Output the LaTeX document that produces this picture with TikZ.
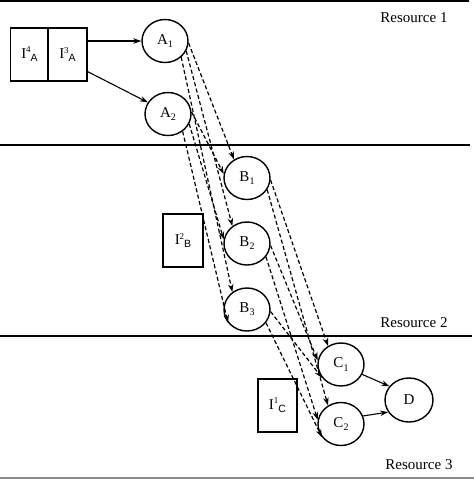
\documentclass[tikz,border=0pt]{standalone}
\usepackage{fontspec}
\setmainfont{Liberation Serif}
\newfontfamily\sansf{Liberation Sans}
\usetikzlibrary{shapes.geometric,arrows.meta}
\newcommand{\Ilab}[2]{I\raisebox{0.8ex}{\fontsize{9}{9}\selectfont #1}\raisebox{-0.5ex}{\sansf\fontsize{10.5}{10.5}\selectfont #2}}
\newcommand{\sublab}[2]{#1\raisebox{-0.45ex}{\fontsize{10}{10}\selectfont #2}}
\begin{document}
\begin{tikzpicture}[x=1pt,y=-1pt,
  every node/.style={font=\fontsize{15}{16}\selectfont},
  proc/.style={draw,ellipse,line width=1.4pt,minimum width=46pt,minimum height=43pt,inner sep=0pt},
  ibox/.style={draw,line width=1.2pt,minimum width=38pt,minimum height=53pt,inner sep=0pt},
  sarr/.style={line width=1.1pt,-{Stealth[length=8pt,width=5.5pt]}},
  darr/.style={line width=1.2pt,dashed,dash pattern=on 4pt off 2.5pt,-{Stealth[length=8pt,width=5.5pt]}},
  sep/.style={line width=1.3pt}]
\useasboundingbox (0,0) rectangle (474,480);
% separators
\coordinate (t0) at (0,1); \coordinate (t1) at (469,1);
\coordinate (m0) at (0,145); \coordinate (m1) at (470,145);
\coordinate (n0) at (0,336); \coordinate (n1) at (472,336);
\coordinate (b0) at (0,478); \coordinate (b1) at (474,478);
\draw[sep] (t0) -- (t1);
\draw[sep] (m0) -- (m1);
\draw[sep] (n0) -- (n1);
\draw[sep,draw=black!45] (b0) -- (b1);
% resource labels
\node (r1) at (414,18) {Resource 1};
\node (r2) at (414,323) {Resource 2};
\node (r3) at (419,465) {Resource 3};
% boxes
\node[ibox] (I4A) at (29.5,54.5) {\Ilab{4}{A}};
\node[ibox,minimum width=39pt] (I3A) at (67.5,54.5) {\Ilab{3}{A}};
\node[ibox,minimum width=40pt] (I2B) at (183,240.5) {\Ilab{2}{B}};
\node[ibox,minimum width=39pt] (I1C) at (277.5,405.5) {\Ilab{1}{C}};
% processes
\node[proc] (A1) at (165,41) {\sublab{A}{1}};
\node[proc] (A2) at (168,114) {\sublab{A}{2}};
\node[proc] (B1) at (247,178) {\sublab{B}{1}};
\node[proc] (B2) at (247,243.5) {\sublab{B}{2}};
\node[proc] (B3) at (247,309.5) {\sublab{B}{3}};
\node[proc] (C1) at (341,364.5) {\sublab{C}{1}};
\node[proc] (C2) at (341,424) {\sublab{C}{2}};
\node[proc,minimum width=48pt,minimum height=44pt] (D) at (409,400) {D};
% solid arrows
\coordinate (i3s) at ([yshift=10pt]I3A.south east);
\draw[sarr] (I3A.east |- A1) -- (A1.west);
\draw[sarr] (i3s) -- (A2.150);
\draw[sarr] (C1.-25) -- (D.145);
\draw[sarr] (C2.20) -- (D.-150);
% dashed A -> B
\draw[darr] (A1.-5) -- (B1.125);
\draw[darr] (A1.-25) -- (B2.130);
\draw[darr] (A1.-45) -- (B3.130);
\draw[darr] (A2.5) -- (B1.170);
\draw[darr] (A2.-25) -- (B2.170);
\draw[darr] (A2.-50) -- (B3.215);
% dashed B -> C
\draw[darr] (B1.-5) -- (C1.125);
\draw[darr] (B1.-30) -- (C2.125);
\draw[darr] (B2.-5) -- (C1.170);
\draw[darr] (B2.-35) -- (C2.170);
\draw[darr] (B3.-5) -- (C1.215);
\draw[darr] (B3.-35) -- (C2.215);
\end{tikzpicture}
\end{document}
